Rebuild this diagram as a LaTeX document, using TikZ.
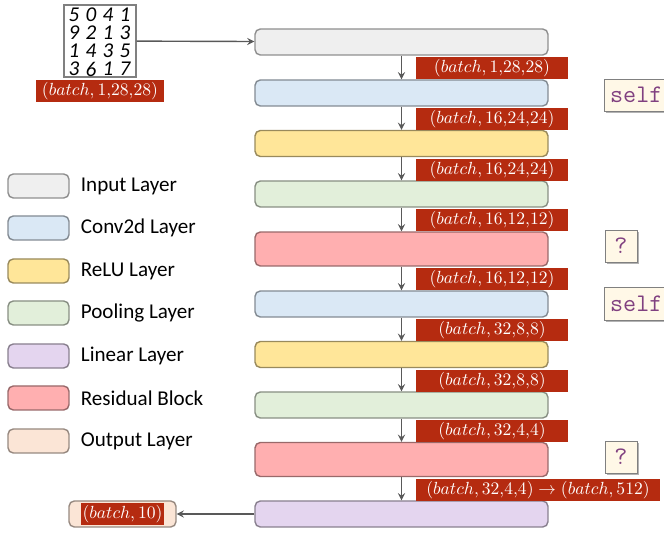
\documentclass[tikz,border=0pt]{standalone}
\usepackage{fontspec}
\setmainfont{Carlito}
\usetikzlibrary{positioning,shadows}

\definecolor{inputC}{HTML}{EFEFEF}
\definecolor{convC}{HTML}{DAE8F5}
\definecolor{reluC}{HTML}{FFE699}
\definecolor{poolC}{HTML}{E2EFDA}
\definecolor{linC}{HTML}{E4D5EF}
\definecolor{resC}{HTML}{FFAFB0}
\definecolor{outC}{HTML}{FBE5D6}
\definecolor{dimsC}{HTML}{B52B10}
\definecolor{codeC}{HTML}{FFF8E7}

\tikzset{
  layer/.style={draw=#1!60!black, rounded corners=3pt, minimum width=5.86cm, minimum height=0.52cm, thick},
  key/.style={draw=#1!60!black, rounded corners=3pt, minimum width=1.22cm, minimum height=0.48cm, thick},
  keytext/.style={anchor=west, font=\large},
  dims/.style={fill=dimsC, text=white, inner sep=1pt, minimum height=0.4cm, font=\normalsize},
  code/.style={fill=codeC, draw=gray, drop shadow={shadow xshift=1pt,shadow yshift=-1pt,opacity=.6}, text=violet!50!gray, font=\ttfamily\Large},
  flow/.style={->, >=stealth, draw=black!65, thick},
  digit/.style={font=\large\itshape, inner sep=0pt}
}

\begin{document}
\begin{tikzpicture}[x=0.02cm,y=-0.02cm]
\useasboundingbox (0,0) rectangle (664,547);

% layers
\node[layer=inputC, fill=inputC] (in) at (401.5,42) {};
\node[layer=convC, fill=convC] (c1) at (401.5,93) {};
\node[layer=reluC, fill=reluC] (r1) at (401.5,143.5) {};
\node[layer=poolC, fill=poolC] (p1) at (401.5,194) {};
\node[layer=resC, fill=resC, minimum height=0.68cm] (b1) at (401.5,249) {};
\node[layer=convC, fill=convC] (c2) at (401.5,304) {};
\node[layer=reluC, fill=reluC] (r2) at (401.5,354.5) {};
\node[layer=poolC, fill=poolC] (p2) at (401.5,405) {};
\node[layer=resC, fill=resC, minimum height=0.68cm] (b2) at (401.5,459.5) {};
\node[layer=linC, fill=linC] (fc) at (401.5,514) {};

\foreach \a/\b in {in/c1,c1/r1,r1/p1,p1/b1,b1/c2,c2/r2,r2/p2,p2/b2,b2/fc}
  \draw[flow] (\a) -- (\b);

% dims
\node[dims, minimum width=3.04cm] at (492,68) {$(batch,1{,}28{,}28)$};
\node[dims, minimum width=3.04cm] at (492,119) {$(batch,16{,}24{,}24)$};
\node[dims, minimum width=3.04cm] at (492,170) {$(batch,16{,}24{,}24)$};
\node[dims, minimum width=3.04cm] at (492,220) {$(batch,16{,}12{,}12)$};
\node[dims, minimum width=3.04cm] at (492,279) {$(batch,16{,}12{,}12)$};
\node[dims, minimum width=3.04cm] at (492,330) {$(batch,32{,}8{,}8)$};
\node[dims, minimum width=3.04cm] at (492,381) {$(batch,32{,}8{,}8)$};
\node[dims, minimum width=3.04cm] at (492,431) {$(batch,32{,}4{,}4)$};
\node[dims, minimum width=4.88cm] at (538,490) {$(batch,32{,}4{,}4)\rightarrow(batch,512)$};

% input image
\node[draw=gray, thick, fill=white, minimum size=1.44cm, inner sep=0pt] (img) at (100,41) {};
\foreach \r/\row in {0/{5,0,4,1}, 1/{9,2,1,3}, 2/{1,4,3,5}, 3/{3,6,1,7}}
  \foreach \d [count=\c from 0] in \row
    \node[digit] at (74+\c*17, 15+\r*18) {\d};
\node[dims, minimum width=2.56cm] at (100,91) {$(batch,1{,}28{,}28)$};
\draw[flow] (img) -- (in);

% output
\node[key=outC, fill=outC, minimum width=2.14cm, minimum height=0.52cm] (out) at (122.5,514) {};
\node[dims, minimum height=0.38cm] at (out) {$(batch,10)$};
\draw[flow] (fc) -- (out);

% code hints
\node[code, anchor=west, minimum height=0.64cm] at (604,95) {self.};
\node[code, minimum size=0.64cm] at (621,246) {?};
\node[code, anchor=west, minimum height=0.66cm] at (604,304) {self.};
\node[code, minimum size=0.64cm] at (621,457) {?};

% legend
\foreach \y/\c/\t in {186/inputC/Input Layer, 228/convC/Conv2d Layer, 271/reluC/ReLU Layer,
  313/poolC/Pooling Layer, 356/linC/Linear Layer, 398/resC/Residual Block, 441/outC/Output Layer}
{
  \node[key=\c, fill=\c] (k\y) at (38.5,\y) {};
  \node[keytext, right=0.1cm of k\y] {\t};
}
\end{tikzpicture}
\end{document}
